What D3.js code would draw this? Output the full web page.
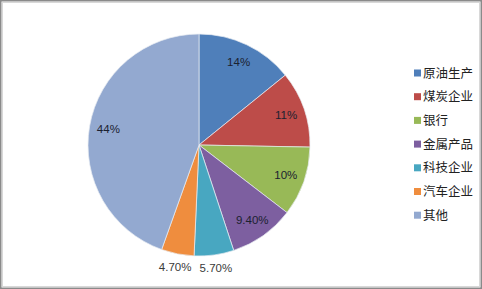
<!DOCTYPE html>
<html>
<head>
<meta charset="utf-8">
<script src="https://cdn.jsdelivr.net/npm/d3@7"></script>
<style>
  html, body { margin: 0; padding: 0; background: #fff; }
  svg { display: block; }
</style>
</head>
<body>
<svg id="chart" width="482" height="289"></svg>
<script>
// data
const categories = ["原油生产", "煤炭企业", "银行", "金属产品", "科技企业", "汽车企业", "其他"];
const values = [14, 11, 10, 9.4, 5.7, 4.7, 44];
const labels = ["14%", "11%", "10%", "9.40%", "5.70%", "4.70%", "44%"];
const colors = ["#4f7fba", "#bd4c49", "#98b957", "#7d5fa0", "#48a7c1", "#ef8d3e", "#93a9d0"];

const width = 482, height = 289;
const cx = 199, cy = 145, radius = 111;

const svg = d3.select("#chart");

// outer frame
svg.append("rect")
    .attr("x", 0.5).attr("y", 0.5)
    .attr("width", width - 1).attr("height", height - 1)
    .attr("fill", "#fff")
    .attr("stroke", "#8a8a8a")
    .attr("stroke-width", 2);
svg.append("rect")
    .attr("x", 2.5).attr("y", 2.5)
    .attr("width", width - 5).attr("height", height - 5)
    .attr("fill", "none")
    .attr("stroke", "#d8d8d8")
    .attr("stroke-width", 1);

const data = categories.map((c, i) => ({name: c, value: values[i], label: labels[i], color: colors[i]}));

const pie = d3.pie().value(d => d.value).sort(null);
const arcs = pie(data);

const arc = d3.arc().innerRadius(0).outerRadius(radius);
const inLabel = d3.arc().innerRadius(92).outerRadius(92);
const outLabel = d3.arc().innerRadius(124).outerRadius(124);

const g = svg.append("g").attr("transform", `translate(${cx},${cy})`);

g.selectAll("path")
    .data(arcs)
    .enter().append("path")
    .attr("d", arc)
    .attr("fill", d => d.data.color)
    .attr("stroke", "#e8ecf2")
    .attr("stroke-width", 0.7);

g.selectAll("text.lbl")
    .data(arcs)
    .enter().append("text")
    .attr("class", "lbl")
    .attr("transform", d => {
        const outside = d.data.value < 6;
        const p = (outside ? outLabel : inLabel).centroid(d);
        return `translate(${p[0]},${p[1]})`;
    })
    .attr("dy", "0.35em")
    .attr("text-anchor", "middle")
    .attr("font-family", "'Liberation Sans', Arial, sans-serif")
    .attr("font-size", 11.5)
    .attr("fill", d => d.data.value < 6 ? "#3a3a3a" : "#1b2130")
    .text(d => d.data.label);

// legend
const legend = svg.append("g").attr("transform", "translate(414,73)");
const rowH = 23.7;

const rows = legend.selectAll("g")
    .data(data)
    .enter().append("g")
    .attr("transform", (d, i) => `translate(0,${i * rowH})`);

rows.append("rect")
    .attr("x", 0).attr("y", -3.5)
    .attr("width", 7).attr("height", 7)
    .attr("fill", d => d.color);

rows.append("text")
    .attr("x", 9)
    .attr("dy", "0.36em")
    .attr("font-family", "'Noto Sans CJK SC', sans-serif")
    .attr("font-size", 12.5)
    .attr("fill", "#222")
    .text(d => d.name);
</script>
</body>
</html>
